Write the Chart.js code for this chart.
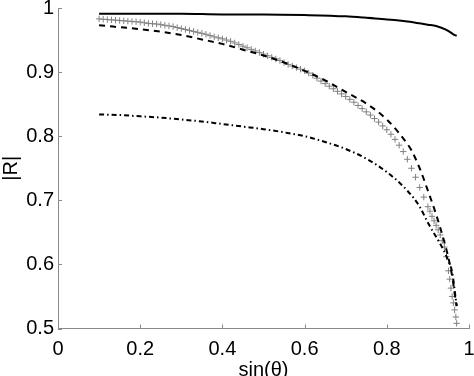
<!DOCTYPE html>
<html>
<head>
<meta charset="utf-8">
<script src="https://cdn.jsdelivr.net/npm/chart.js@4/dist/chart.umd.min.js"></script>
<style>
html,body{margin:0;padding:0;background:#fff;}
canvas{display:block;}
</style>
</head>
<body>
<canvas id="c" width="474" height="376"></canvas>
<script>
// ---- data ----
const xTicks = [0, 0.2, 0.4, 0.6, 0.8, 1];
const xTickLabels = ['0', '0.2', '0.4', '0.6', '0.8', '1'];
const yTicks = [0.5, 0.6, 0.7, 0.8, 0.9, 1];
const yTickLabels = ['0.5', '0.6', '0.7', '0.8', '0.9', '1'];

const solidX = [0.10, 0.20, 0.30, 0.40, 0.50, 0.60, 0.70, 0.745, 0.80, 0.824, 0.85, 0.90, 0.92, 0.945, 0.955, 0.962, 0.97];
const solidY = [0.991, 0.991, 0.991, 0.990, 0.990, 0.989, 0.987, 0.985, 0.982, 0.981, 0.979, 0.974, 0.972, 0.966, 0.962, 0.959, 0.9565];

const plusX = [0.10, 0.11, 0.12, 0.13, 0.14, 0.15, 0.16, 0.17, 0.18, 0.19, 0.20, 0.21, 0.22, 0.23, 0.24, 0.25,
  0.26, 0.27, 0.28, 0.29, 0.30, 0.31, 0.32, 0.33, 0.34, 0.35, 0.36, 0.37, 0.38, 0.39, 0.40, 0.41, 0.42, 0.43,
  0.44, 0.45, 0.46, 0.47, 0.48, 0.49, 0.50, 0.51, 0.52, 0.53, 0.54, 0.55, 0.56, 0.57, 0.58, 0.59, 0.60, 0.61,
  0.62, 0.63, 0.64, 0.65, 0.66, 0.67, 0.68, 0.69, 0.70, 0.71, 0.72, 0.73, 0.74, 0.75, 0.76, 0.77, 0.78, 0.79,
  0.80, 0.81, 0.82, 0.83, 0.84, 0.85, 0.86, 0.87, 0.88, 0.89, 0.90, 0.905, 0.91, 0.915, 0.92, 0.925, 0.93,
  0.935, 0.94, 0.945, 0.95, 0.953, 0.956, 0.959, 0.962, 0.965, 0.968, 0.97];
const plusY = [0.983, 0.9825, 0.982, 0.9815, 0.981, 0.9805, 0.980, 0.9795, 0.979, 0.9785, 0.978, 0.977, 0.976, 0.9755, 0.975, 0.974,
  0.973, 0.972, 0.971, 0.9695, 0.968, 0.9665, 0.965, 0.9635, 0.962, 0.9605, 0.959, 0.957, 0.955, 0.9535, 0.952, 0.950, 0.948, 0.9455,
  0.943, 0.9405, 0.938, 0.9355, 0.933, 0.9305, 0.928, 0.9255, 0.923, 0.9205, 0.918, 0.915, 0.912, 0.9095, 0.907, 0.9045, 0.902, 0.8985,
  0.895, 0.8905, 0.886, 0.882, 0.878, 0.874, 0.870, 0.866, 0.862, 0.8575, 0.853, 0.848, 0.843, 0.838, 0.833, 0.8275, 0.822, 0.816,
  0.810, 0.803, 0.795, 0.786, 0.776, 0.764, 0.750, 0.736, 0.720, 0.705, 0.690, 0.683, 0.675, 0.668, 0.661, 0.654, 0.646,
  0.637, 0.627, 0.612, 0.590, 0.577, 0.563, 0.550, 0.540, 0.529, 0.518, 0.508];

const dashX = [0.10, 0.15, 0.20, 0.25, 0.30, 0.35, 0.40, 0.45, 0.50, 0.55, 0.60, 0.65, 0.70, 0.75, 0.80, 0.85, 0.86, 0.88, 0.90, 0.92, 0.94, 0.95, 0.96, 0.965, 0.97];
const dashY = [0.973, 0.970, 0.967, 0.963, 0.958, 0.951, 0.944, 0.935, 0.926, 0.915, 0.902, 0.887, 0.869, 0.851, 0.826, 0.788, 0.778, 0.750, 0.715, 0.678, 0.635, 0.610, 0.578, 0.555, 0.535];

const dotdashX = [0.10, 0.15, 0.20, 0.25, 0.30, 0.35, 0.40, 0.45, 0.50, 0.55, 0.60, 0.65, 0.70, 0.75, 0.80, 0.85, 0.88, 0.90, 0.92, 0.94, 0.95, 0.96, 0.965, 0.97];
const dotdashY = [0.834, 0.833, 0.831, 0.829, 0.826, 0.823, 0.819, 0.815, 0.811, 0.806, 0.800, 0.791, 0.780, 0.765, 0.744, 0.715, 0.690, 0.665, 0.643, 0.620, 0.605, 0.585, 0.560, 0.535];

const pts = (xs, ys) => xs.map((x, i) => ({ x: x, y: ys[i] }));

const FONT = '"Liberation Sans", Arial, Helvetica, sans-serif';
const AXIS = '#8a8a8a';

const innerTicks = {
  id: 'innerTicks',
  beforeDatasetsDraw(chart) {
    const ctx = chart.ctx, xs = chart.scales.x, ys = chart.scales.y;
    ctx.save();
    ctx.strokeStyle = AXIS;
    ctx.lineWidth = 1;
    ctx.beginPath();
    xTicks.forEach(v => {
      const px = Math.round(xs.getPixelForValue(v)) + 0.5;
      ctx.moveTo(px, ys.bottom);
      ctx.lineTo(px, ys.bottom - 4);
    });
    yTicks.forEach(v => {
      const py = Math.round(ys.getPixelForValue(v)) + 0.5;
      ctx.moveTo(xs.left, py);
      ctx.lineTo(xs.left + 4, py);
    });
    ctx.stroke();
    ctx.restore();
  }
};

new Chart(document.getElementById('c'), {
  type: 'scatter',
  data: {
    datasets: [
      { data: pts(solidX, solidY), showLine: true, borderColor: '#000', borderWidth: 2, pointRadius: 0, cubicInterpolationMode: 'monotone', fill: false },
      { data: pts(dashX, dashY), showLine: true, borderColor: '#000', borderWidth: 2, borderDash: [6, 5], pointRadius: 0, cubicInterpolationMode: 'monotone', fill: false },
      { data: pts(dotdashX, dotdashY), showLine: true, borderColor: '#000', borderWidth: 2, borderDash: [5, 3, 1.5, 3], pointRadius: 0, cubicInterpolationMode: 'monotone', fill: false },
      { data: pts(plusX, plusY), showLine: false, pointStyle: 'cross', pointRadius: 3.2, borderColor: '#808080', backgroundColor: '#808080', borderWidth: 1 }
    ]
  },
  options: {
    responsive: false,
    animation: false,
    devicePixelRatio: 1,
    layout: { padding: { top: 8, right: 1, left: 0, bottom: 0 } },
    plugins: { legend: { display: false }, tooltip: { enabled: false } },
    scales: {
      x: {
        type: 'linear', min: 0, max: 1,
        afterBuildTicks: s => { s.ticks = xTicks.map(v => ({ value: v })); },
        afterFit: s => { s.height = 47.5; s.paddingLeft = 0; s.paddingRight = 0; },
        grid: { display: true, drawOnChartArea: false, drawTicks: false },
        border: { display: true, color: AXIS, width: 1 },
        ticks: {
          color: '#000', font: { family: FONT, size: 20 }, padding: 9, maxRotation: 0, autoSkip: false,
          callback: v => { const i = xTicks.findIndex(t => Math.abs(t - v) < 1e-9); return i >= 0 ? xTickLabels[i] : ''; }
        },
        title: { display: true, text: 'sin(θ)', color: '#000', font: { family: FONT, size: 20, lineHeight: 1.2 }, padding: { top: 0, bottom: -6 } }
      },
      y: {
        type: 'linear', min: 0.5, max: 1,
        afterBuildTicks: s => { s.ticks = yTicks.map(v => ({ value: v })); },
        afterFit: s => { s.width = 58; s.paddingTop = 0; s.paddingBottom = 0; },
        grid: { display: true, drawOnChartArea: false, drawTicks: false },
        border: { display: true, color: AXIS, width: 1 },
        ticks: {
          color: '#000', font: { family: FONT, size: 20 }, padding: 4, autoSkip: false,
          callback: v => { const i = yTicks.findIndex(t => Math.abs(t - v) < 1e-9); return i >= 0 ? yTickLabels[i] : ''; }
        },
        title: { display: true, text: '|R|', color: '#000', font: { family: FONT, size: 20, lineHeight: 1.2 }, padding: { top: -1, bottom: 0 } }
      }
    }
  },
  plugins: [innerTicks]
});
</script>
</body>
</html>
